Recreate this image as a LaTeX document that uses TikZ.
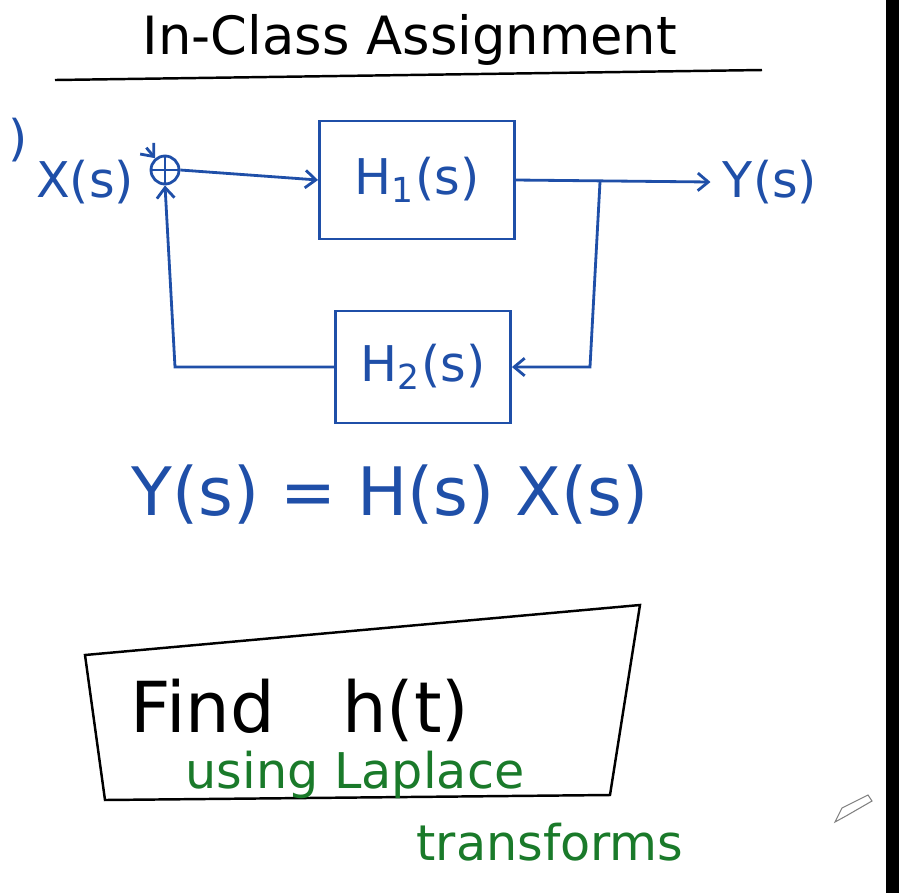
\documentclass[tikz,border=0pt]{standalone}
\usepackage{fontspec}
\setmainfont{DejaVu Sans}
\usetikzlibrary{arrows.meta}
\definecolor{inkblue}{HTML}{1F4FA8}
\definecolor{inkgreen}{HTML}{1A7A2A}
\begin{document}
\begin{tikzpicture}[x=0.01cm,y=-0.01cm,
  blk/.style={draw=inkblue,line width=0.8pt,minimum width=1.95cm,minimum height=1.18cm,inner sep=0pt,text=inkblue,font=\fontsize{14}{14}\selectfont},
  wire/.style={draw=inkblue,line width=0.8pt},
  arr/.style={wire,-{Straight Barb[length=3pt,width=5pt]}},
  bl/.style={text=inkblue,font=\fontsize{14}{14}\selectfont},
  ln/.style={line width=0.7pt}]
\useasboundingbox (0,0) rectangle (899,893);
\fill (886,0) rectangle (899,893);
% title
\node (title) at (410,40) {\fontsize{15}{15}\selectfont In-Class Assignment};
\draw[ln] (55,80) -- (762,70);
% blocks
\node[bl] (x) at (85,182) {X(s)};
\node[bl,anchor=west] (ps) at (-4,140) {)};
\node[draw=inkblue,line width=0.8pt,circle,minimum size=0.28cm,inner sep=0pt] (sum) at (165,170) {};
\draw[wire] (sum.north)--(sum.south) (sum.west)--(sum.east);
\node[blk] (h1) at (417,180) {H\textsubscript{1}(s)};
\node[blk,minimum width=1.75cm,minimum height=1.12cm] (h2) at (423,367) {H\textsubscript{2}(s)};
\node[bl] (y) at (770,182) {Y(s)};
\draw[arr] (x.north east) -- (sum);
\draw[arr] (sum.east) -- (h1.west);
\draw[arr] (h1.east) -- (y.west);
\coordinate (br) at (600,182);
\coordinate (c1) at (590,367);
\coordinate (c2) at (175,367);
\draw[arr] (br) -- (c1) -- (h2.east);
\draw[arr] (h2.west) -- (c2) -- (sum.south);
% equation
\node[bl,font=\fontsize{19}{19}\selectfont] (eq) at (390,495) {Y(s) = H(s) X(s)};
% find box
\coordinate (b1) at (85,655);
\coordinate (b2) at (640,605);
\coordinate (b3) at (610,795);
\coordinate (b4) at (105,800);
\draw[ln] (b1) -- (b2) -- (b3) -- (b4) -- cycle;
\node (find) at (300,710) {\fontsize{20}{20}\selectfont Find \ \ h(t)};
\node[text=inkgreen] (using) at (355,775) {\fontsize{14}{14}\selectfont using Laplace};
\node[text=inkgreen] (tr) at (550,842) {\fontsize{14}{14}\selectfont transforms};
% pencil
\draw[gray,line width=0.3pt] (835,822) -- (842,808) -- (868,795) -- (872,801) -- (846,816) -- cycle;
\end{tikzpicture}
\end{document}
